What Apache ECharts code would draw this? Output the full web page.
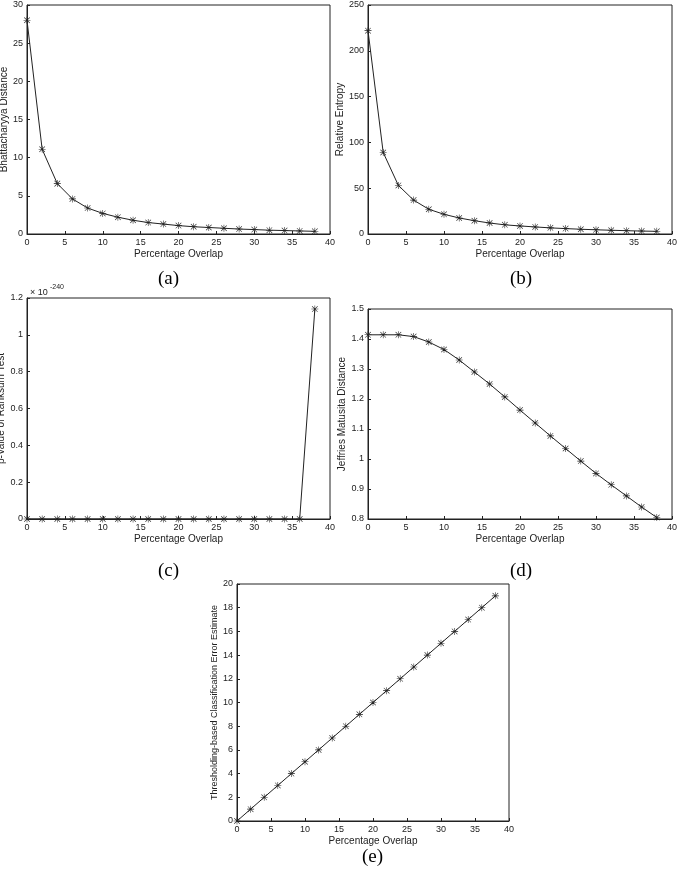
<!DOCTYPE html><html><head><meta charset="utf-8"><script src="https://cdn.jsdelivr.net/npm/echarts@6/dist/echarts.min.js"></script>
<style>html,body{margin:0;background:#fff}#c{width:685px;height:874px}</style></head><body><div id="c"></div><script>
const overlap=[0,2,4,6,8,10,12,14,16,18,20,22,24,26,28,30,32,34,36,38];
const bhatt=[28,11.1,6.6,4.6,3.4,2.7,2.2,1.8,1.5,1.3,1.1,0.95,0.85,0.75,0.65,0.58,0.5,0.45,0.4,0.35];
const relEnt=[222,89,53,37,27,21.5,17.5,14.5,12,10,8.8,7.7,6.7,5.9,5.2,4.6,4.1,3.6,3.2,2.9];
const pval=[0,0,0,0,0,0,0,0,0,0,0,0,0,0,0,0,0,0,0,1.14];
const jm=[1.414,1.414,1.414,1.408,1.39,1.365,1.33,1.29,1.25,1.207,1.163,1.12,1.077,1.035,0.993,0.952,0.914,0.877,0.84,0.805];
const thr=[0,1,2,3,4,5,6,7,8,9,10,11,12,13,14,15,16,17,18,19];
const panels=[
 {g:{left:27,top:5,width:303,height:229},y:bhatt,name:'Bhattacharyya Distance',min:0,max:30,int:5,cap:'(a)',cx:168,cy:281},
 {g:{left:368,top:5,width:304,height:229},y:relEnt,name:'Relative Entropy',min:0,max:250,int:50,cap:'(b)',cx:520,cy:281},
 {g:{left:27,top:298,width:303,height:221},y:pval,name:'p-Value of Ranksum Test',min:0,max:1.2,int:0.2,cap:'(c)',cx:168,cy:573},
 {g:{left:368,top:309,width:304,height:210},y:jm,name:'Jeffries Matusita Distance',min:0.8,max:1.5,int:0.1,cap:'(d)',cx:520,cy:573},
 {g:{left:237,top:584,width:272,height:237},y:thr,name:'Thresholding-based Classification Error Estimate',min:0,max:20,int:2,cap:'(e)',cx:372,cy:859}
];
const star='path://M4.6,0h0.8v10h-0.8z M0,4.6h10v0.8h-10z M1.3,0.7L9.3,8.7L8.7,9.3L0.7,1.3z M8.7,0.7L9.3,1.3L1.3,9.3L0.7,8.7z';
const tf={fontSize:9,color:'#222',fontFamily:'Liberation Sans'};
const opt={animation:false,grid:[],xAxis:[],yAxis:[],series:[],graphic:[]};
panels.forEach((p,i)=>{
 opt.grid.push(Object.assign({show:true,borderColor:'#222',borderWidth:1,backgroundColor:'#fff',containLabel:false,outerBoundsMode:'none'},p.g));
 opt.xAxis.push({type:'value',gridIndex:i,min:0,max:40,interval:5,axisLine:{lineStyle:{color:'#222'}},axisTick:{inside:true,length:3},splitLine:{show:false},axisLabel:Object.assign({margin:4},tf),name:'Percentage Overlap',nameLocation:'middle',nameGap:15,nameTextStyle:{fontSize:10,color:'#222',fontFamily:'Liberation Sans'}});
 opt.yAxis.push({type:'value',gridIndex:i,min:p.min,max:p.max,interval:p.int,axisLine:{lineStyle:{color:'#222'}},axisTick:{inside:true,length:3},splitLine:{show:false},axisLabel:Object.assign({margin:4,formatter:v=>+v.toFixed(2)+''},tf),name:p.name,nameLocation:'middle',nameGap:i==4?16:(i==2||i==3?21:17),nameTextStyle:{fontSize:i==4?9:10,color:'#222',fontFamily:'Liberation Sans'}});
 opt.series.push({type:'line',xAxisIndex:i,yAxisIndex:i,data:overlap.map((x,k)=>[x,p.y[k]]),symbol:star,symbolSize:7,lineStyle:{color:'#222',width:1},itemStyle:{color:'#222'}});
 opt.graphic.push({type:'text',left:p.cx-10,top:p.cy-11,style:{text:p.cap,fontSize:19,fontFamily:'Liberation Serif',fill:'#000'}});
});
opt.graphic.push({type:'text',left:30,top:288,style:{text:'× 10',fontSize:9,fontFamily:'Liberation Sans',fill:'#222'}});
opt.graphic.push({type:'text',left:50,top:284,style:{text:'-240',fontSize:7,fontFamily:'Liberation Sans',fill:'#222'}});
echarts.init(document.getElementById('c')).setOption(opt);
</script></body></html>
